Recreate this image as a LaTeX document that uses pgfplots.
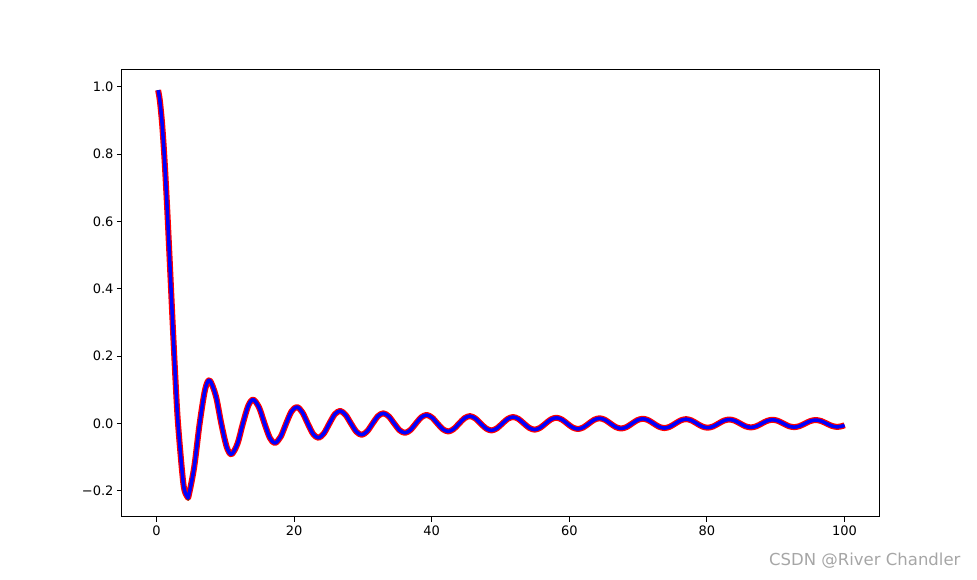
\documentclass[border=0pt]{standalone}
\usepackage{pgfplots}
\pgfplotsset{compat=1.18}
\usepackage{fontspec}
\setmainfont{DejaVu Sans}
\begin{document}
\begin{tikzpicture}[x=1pt,y=1pt]
\path[use as bounding box] (-122,-63) rectangle (855,517);
\begin{axis}[
  at={(0,0)}, anchor=south west,
  scale only axis, width=757pt, height=447pt,
  xmin=-5, xmax=105, ymin=-0.2775, ymax=1.0495,
  xtick={0,20,40,60,80,100},
  ytick={-0.2,0,0.2,0.4,0.6,0.8,1.0},
  yticklabels={−0.2,0.0,0.2,0.4,0.6,0.8,1.0},
  /pgf/number format/assume math mode=true,
  tick label style={font=\fontsize{13}{15}\selectfont, text=black},
  tick align=outside, tickwidth=5pt,
  xtick pos=bottom, ytick pos=left,
  axis line style={black, line width=1pt},
  major tick style={black, line width=1pt},
  clip=true,
]
\pgfplotstableread{
x y
0.25 0.98962
0.5 0.95885
0.7854 0.90032
1.0 0.84147
1.25 0.75919
1.5708 0.63662
2.0 0.45465
2.3562 0.30011
2.75 0.13879
3.1416 0
3.9270 -0.18006
4.4934 -0.21723
4.7124 -0.21221
5.4978 -0.12862
6.2832 0
7.0686 0.10004
7.7253 0.12837
8.6394 0.08185
9.4248 0
10.2102 -0.06926
10.9041 -0.09133
11.7810 -0.06002
12.5664 0
13.3518 0.05296
14.0662 0.07091
14.9226 0.04739
15.7080 0
16.4934 -0.04287
17.2208 -0.05797
18.0642 -0.03914
18.8496 0
19.6350 0.03601
20.4204 0.04897
21.2058 0.03335
21.9911 0
22.7765 -0.03105
23.5619 -0.04244
24.3473 -0.02904
25.1327 0
25.9181 0.02728
26.7035 0.03745
27.4889 0.02572
28.2743 0
29.0597 -0.02433
29.8451 -0.03351
30.6305 -0.02309
31.4159 0
32.2013 0.02196
32.9867 0.03032
33.7721 0.02094
34.5575 0
35.3429 -0.02001
36.1283 -0.02768
36.9137 -0.01916
37.6991 0
38.4845 0.01837
39.2699 0.02546
40.0553 0.01765
40.8407 0
41.6261 -0.01699
42.4115 -0.02358
43.1969 -0.01637
43.9823 0
44.7677 0.01580
45.5531 0.02195
46.3385 0.01526
47.1239 0
47.9093 -0.01476
48.6947 -0.02054
49.4801 -0.01429
50.2655 0
51.0509 0.01385
51.8363 0.01929
52.6217 0.01344
53.4071 0
54.1925 -0.01305
54.9779 -0.01819
55.7633 -0.01268
56.5487 0
57.3341 0.01233
58.1195 0.01721
58.9049 0.01200
59.6903 0
60.4757 -0.01169
61.2611 -0.01632
62.0465 -0.01140
62.8319 0
63.6173 0.01112
64.4026 0.01553
65.1880 0.01085
65.9734 0
66.7588 -0.01059
67.5442 -0.01481
68.3296 -0.01035
69.1150 0
69.9004 0.01012
70.6858 0.01415
71.4712 0.00989
72.2566 0
73.0420 -0.00968
73.8274 -0.01355
74.6128 -0.00948
75.3982 0
76.1836 0.00928
76.9690 0.01299
77.7544 0.00909
78.5398 0
79.3252 -0.00891
80.1106 -0.01248
80.8960 -0.00874
81.6814 0
82.4668 0.00857
83.2522 0.01201
84.0376 0.00841
84.8230 0
85.6084 -0.00826
86.3938 -0.01157
87.1792 -0.00811
87.9646 0
88.7500 0.00797
89.5354 0.01117
90.3208 0.00783
91.1062 0
91.8916 -0.00770
92.6770 -0.01079
93.4624 -0.00757
94.2478 0
95.0332 0.00744
95.8186 0.01044
96.6040 0.00732
97.3894 0
98.1748 -0.00720
98.9602 -0.01011
99.7456 -0.00709
100 -0.00506
}\datatable
\addplot[red, line width=6pt, smooth, tension=0.5, line join=round] table {\datatable};
\addplot[green!50!black, line width=2.5pt, dashed, smooth, tension=0.5] table {\datatable};
\addplot[blue, line width=3.5pt, smooth, tension=0.5, line join=round] table {\datatable};
\end{axis}
\node[anchor=base east, text=black!35, font=\fontsize{16.5}{18}\selectfont] at (842,-49) {CSDN @River Chandler};
\end{tikzpicture}
\end{document}
